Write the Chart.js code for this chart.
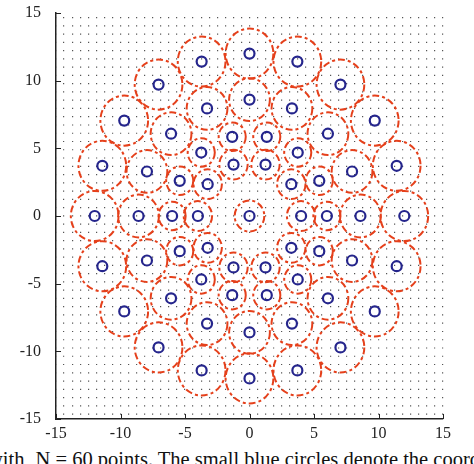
<!DOCTYPE html>
<html>
<head>
<meta charset="utf-8">
<script src="https://cdn.jsdelivr.net/npm/chart.js@4/dist/chart.umd.min.js"></script>
<style>
  html, body { margin: 0; padding: 0; background: #fff; overflow: hidden; }
  #wrap { position: relative; width: 474px; height: 464px; }
  #box { position: absolute; left: 0; top: 0; width: 474px; height: 445px; }
  #caption {
    position: absolute; left: -12px; top: 448px; white-space: nowrap;
    font-family: "Liberation Serif", serif; font-size: 20.5px; color: #111;
  }
  #caption span { padding-left: 6px; }
</style>
</head>
<body>
<div id="wrap">
  <div id="box"><canvas id="grafico"></canvas></div>
  <div id="caption">with <span>N = 60 points. The small blue circles denote the coordinates</span></div>
</div>
<script>
// centros dos circulos, anel por anel
const centroX = [0];
const centroY = [0];
const anel1X = [4, 3.24, 1.24, -1.24, -3.24, -4, -3.24, -1.24, 1.24, 3.24];
const anel1Y = [0, 2.35, 3.80, 3.80, 2.35, 0, -2.35, -3.80, -3.80, -2.35];
const anel2X = [6, 5.41, 3.74, 1.34, -1.34, -3.74, -5.41, -6, -5.41, -3.74, -1.34, 1.34, 3.74, 5.41];
const anel2Y = [0, 2.60, 4.69, 5.85, 5.85, 4.69, 2.60, 0, -2.60, -4.69, -5.85, -5.85, -4.69, -2.60];
const anel3X = [8.6, 7.95, 6.08, 3.29, 0, -3.29, -6.08, -7.95, -8.6, -7.95, -6.08, -3.29, 0, 3.29, 6.08, 7.95];
const anel3Y = [0, 3.29, 6.08, 7.95, 8.6, 7.95, 6.08, 3.29, 0, -3.29, -6.08, -7.95, -8.6, -7.95, -6.08, -3.29];
const anel4X = [12, 11.41, 9.71, 7.05, 3.71, 0, -3.71, -7.05, -9.71, -11.41, -12, -11.41, -9.71, -7.05, -3.71, 0, 3.71, 7.05, 9.71, 11.41];
const anel4Y = [0, 3.71, 7.05, 9.71, 11.41, 12, 11.41, 9.71, 7.05, 3.71, 0, -3.71, -7.05, -9.71, -11.41, -12, -11.41, -9.71, -7.05, -3.71];
// raio do circulo tracejado de cada anel (centro, anel1..anel4)
const raios = [1.15, 1.1, 1.05, 1.58, 1.85];
// rotulos dos eixos
const ticksEixo = [-15, -10, -5, 0, 5, 10, 15];

const aneisX = [centroX, anel1X, anel2X, anel3X, anel4X];
const aneisY = [centroY, anel1Y, anel2Y, anel3Y, anel4Y];

const pontos = [];
aneisX.forEach((xs, i) => {
    xs.forEach((x, j) => {
        pontos.push({ x: x, y: aneisY[i][j], r: raios[i] });
    });
});

// desenha os circulos vermelhos tracejados em unidades dos dados
const circulosPlugin = {
    id: 'circulos',
    beforeDatasetsDraw(chart) {
        const ctx = chart.ctx;
        const sx = chart.scales.x, sy = chart.scales.y;
        ctx.save();
        ctx.strokeStyle = '#e5401b';
        ctx.lineWidth = 2;
        ctx.setLineDash([7, 3, 3, 3]);
        pontos.forEach(p => {
            const px = sx.getPixelForValue(p.x);
            const py = sy.getPixelForValue(p.y);
            const rx = Math.abs(sx.getPixelForValue(p.x + p.r) - px);
            const ry = Math.abs(sy.getPixelForValue(p.y + p.r) - py);
            ctx.beginPath();
            ctx.ellipse(px, py, rx, ry, 0, 0, Math.PI * 2);
            ctx.stroke();
        });
        ctx.restore();
    },
    afterDraw(chart) {
        // marcas dos ticks para dentro
        const ctx = chart.ctx;
        const area = chart.chartArea;
        const sx = chart.scales.x, sy = chart.scales.y;
        ctx.save();
        ctx.strokeStyle = '#222';
        ctx.lineWidth = 1;
        ticksEixo.forEach(v => {
            const px = Math.round(sx.getPixelForValue(v)) + 0.5;
            ctx.beginPath();
            ctx.moveTo(px, area.bottom);
            ctx.lineTo(px, area.bottom - 5);
            ctx.stroke();
            const py = Math.round(sy.getPixelForValue(v)) + 0.5;
            ctx.beginPath();
            ctx.moveTo(area.left, py);
            ctx.lineTo(area.left + 5, py);
            ctx.stroke();
        });
        ctx.restore();
    }
};

Chart.defaults.font.family = "'Liberation Serif', serif";
Chart.defaults.font.size = 16;

function desenhar() {
    const ctx = document.getElementById('grafico').getContext('2d');
    new Chart(ctx, {
        type: 'scatter',
        data: {
            datasets: [{
                label: 'centros',
                data: pontos,
                pointStyle: 'circle',
                pointRadius: 5,
                borderWidth: 2.2,
                borderColor: '#25258c',
                backgroundColor: 'rgba(0,0,0,0)'
            }]
        },
        options: {
            responsive: true,
            maintainAspectRatio: false,
            animation: false,
            layout: { padding: { top: 0, right: 31, left: 0, bottom: 0 } },
            plugins: { legend: { display: false }, tooltip: { enabled: false } },
            scales: {
                x: {
                    type: 'linear', min: -15, max: 15,
                    ticks: {
                        stepSize: 0.625, autoSkip: false, maxRotation: 0,
                        color: '#222', padding: 5,
                        callback: v => (v % 5 === 0 ? String(v) : '')
                    },
                    grid: { drawTicks: false, color: '#555', lineWidth: 1.2 },
                    border: { display: true, color: '#222', width: 1.5, dash: [1.2, 7.06], dashOffset: -4 },
                    afterFit: s => { s.height = 26; }
                },
                y: {
                    type: 'linear', min: -15, max: 15,
                    ticks: { stepSize: 5, color: '#222', font: { lineHeight: 0.75 }, padding: 7 },
                    grid: { display: false },
                    border: { display: true, color: '#222', width: 1.5 },
                    afterFit: s => { s.width = 56; }
                }
            }
        },
        plugins: [circulosPlugin]
    });
}

document.addEventListener('DOMContentLoaded', function () {
    document.fonts.load("16px 'Liberation Serif'").then(desenhar, desenhar);
});
</script>
</body>
</html>
